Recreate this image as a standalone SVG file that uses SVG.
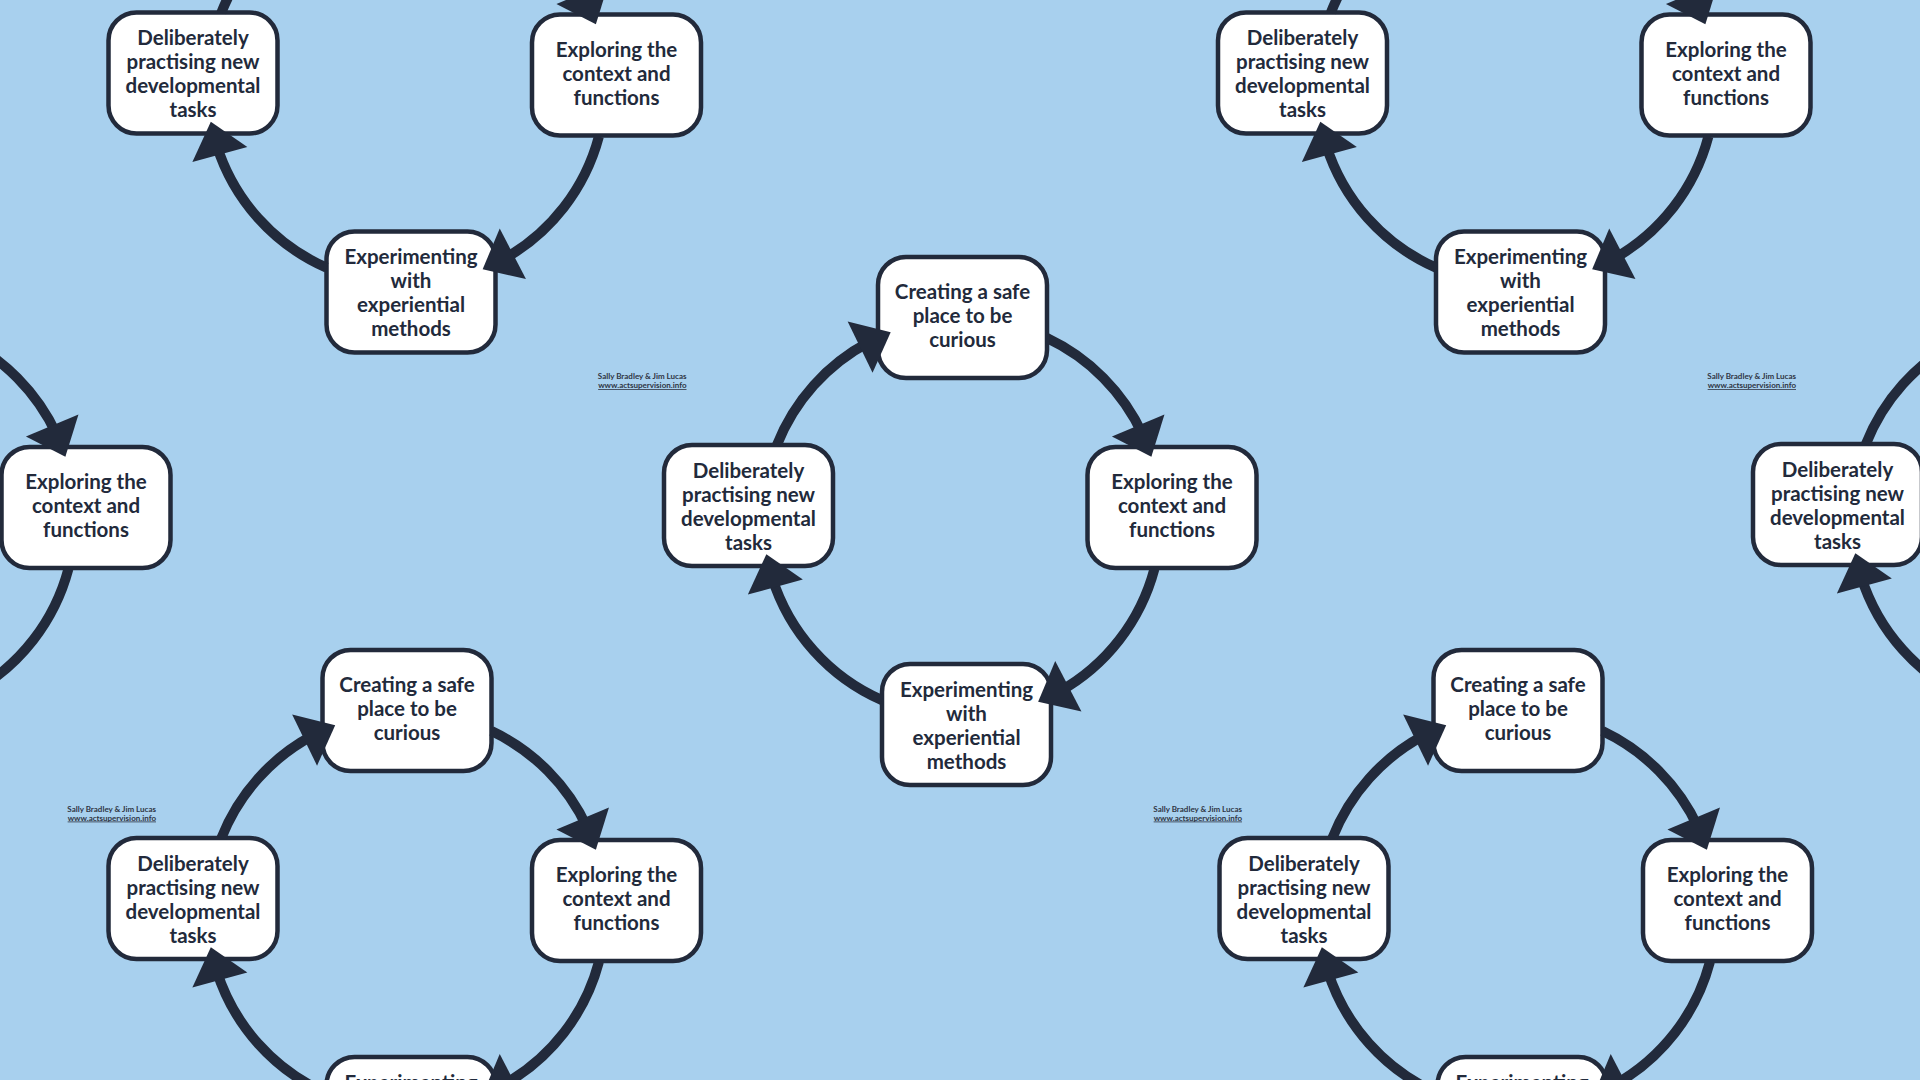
<svg xmlns="http://www.w3.org/2000/svg" xmlns:xlink="http://www.w3.org/1999/xlink" width="1920" height="1080" viewBox="0 0 1920 1080">
<style>
.bg{fill:#a8d0ee}
.box{fill:#ffffff;stroke:#222a3b;stroke-width:4.5}
.lbl{font-family:Lato,"Open Sans","Liberation Sans",sans-serif;font-weight:700;font-size:20.5px;fill:#222a3b;text-anchor:middle}
.arc{fill:none;stroke:#222a3b;stroke-width:10}
.head{fill:#222a3b}
.wm{font-family:Lato,"Liberation Sans",sans-serif;font-weight:700;font-size:8px;fill:#2f3544;text-anchor:end}
</style>
<defs>
<path id="ah" class="head" d="M199,0 L224.5,-36.3 L167.7,-31.44 Z"/>
</defs>
<rect class="bg" x="0" y="0" width="1920" height="1080"/>

<!-- upper-left copy -->
<g id="copy-ul" transform="translate(406.5,85.5)">
  <g id="ul-exploring"><rect class="box" x="125.5" y="-71" width="169" height="121" rx="28"/>
    <text class="lbl" x="210" y="-29">Exploring the</text><text class="lbl" x="210" y="-5">context and</text><text class="lbl" x="210" y="19">functions</text></g>
  <g id="ul-experimenting"><rect class="box" x="-80" y="146" width="169" height="121" rx="28"/>
    <text class="lbl" x="4.5" y="178.5">Experimenting</text><text class="lbl" x="4.5" y="202.5">with</text><text class="lbl" x="4.5" y="226.5">experiential</text><text class="lbl" x="4.5" y="250.5">methods</text></g>
  <g id="ul-deliberately"><rect class="box" x="-298" y="-73" width="169" height="121" rx="28"/>
    <text class="lbl" x="-213.5" y="-40.5">Deliberately</text><text class="lbl" x="-213.5" y="-16.5">practising new</text><text class="lbl" x="-213.5" y="7.5">developmental</text><text class="lbl" x="-213.5" y="31.5">tasks</text></g>
  <g id="ul-connectors">
    <path class="arc" d="M85,-179.9 A199,199 0 0 1 180.8,-83.2"/>
    <path class="arc" d="M192.4,51 A199,199 0 0 1 97.4,173.5"/>
    <path class="arc" d="M-80,182.2 A199,199 0 0 1 -190,59.2"/>
    <path class="arc" d="M-185.1,-73 A199,199 0 0 1 -92.8,-176"/>
    <use xlink:href="#ah" transform="rotate(-17.9)"/>
    <use xlink:href="#ah" transform="rotate(67.5)"/>
    <use xlink:href="#ah" transform="rotate(169.5)"/>
  </g>
  <text class="wm" x="280" y="293.5">Sally Bradley &amp; Jim Lucas</text>
  <text class="wm" x="280" y="302.5" text-decoration="underline">www.actsupervision.info</text>
</g>

<!-- upper-right copy -->
<g id="copy-ur" transform="translate(1516,85.5)">
  <g id="ur-exploring"><rect class="box" x="125.5" y="-71" width="169" height="121" rx="28"/>
    <text class="lbl" x="210" y="-29">Exploring the</text><text class="lbl" x="210" y="-5">context and</text><text class="lbl" x="210" y="19">functions</text></g>
  <g id="ur-experimenting"><rect class="box" x="-80" y="146" width="169" height="121" rx="28"/>
    <text class="lbl" x="4.5" y="178.5">Experimenting</text><text class="lbl" x="4.5" y="202.5">with</text><text class="lbl" x="4.5" y="226.5">experiential</text><text class="lbl" x="4.5" y="250.5">methods</text></g>
  <g id="ur-deliberately"><rect class="box" x="-298" y="-73" width="169" height="121" rx="28"/>
    <text class="lbl" x="-213.5" y="-40.5">Deliberately</text><text class="lbl" x="-213.5" y="-16.5">practising new</text><text class="lbl" x="-213.5" y="7.5">developmental</text><text class="lbl" x="-213.5" y="31.5">tasks</text></g>
  <g id="ur-connectors">
    <path class="arc" d="M85,-179.9 A199,199 0 0 1 180.8,-83.2"/>
    <path class="arc" d="M192.4,51 A199,199 0 0 1 97.4,173.5"/>
    <path class="arc" d="M-80,182.2 A199,199 0 0 1 -190,59.2"/>
    <path class="arc" d="M-185.1,-73 A199,199 0 0 1 -92.8,-176"/>
    <use xlink:href="#ah" transform="rotate(-17.9)"/>
    <use xlink:href="#ah" transform="rotate(67.5)"/>
    <use xlink:href="#ah" transform="rotate(169.5)"/>
  </g>
  <text class="wm" x="280" y="293.5">Sally Bradley &amp; Jim Lucas</text>
  <text class="wm" x="280" y="302.5" text-decoration="underline">www.actsupervision.info</text>
</g>

<!-- left-edge copy -->
<g id="copy-ml" transform="translate(-124,518)">
  <g id="ml-exploring"><rect class="box" x="125.5" y="-71" width="169" height="121" rx="28"/>
    <text class="lbl" x="210" y="-29">Exploring the</text><text class="lbl" x="210" y="-5">context and</text><text class="lbl" x="210" y="19">functions</text></g>
  <g id="ml-connectors">
    <path class="arc" d="M85,-179.9 A199,199 0 0 1 180.8,-83.2"/>
    <path class="arc" d="M192.4,51 A199,199 0 0 1 97.4,173.5"/>
    <use xlink:href="#ah" transform="rotate(-17.9)"/>
    <use xlink:href="#ah" transform="rotate(67.5)"/>
  </g>
  <text class="wm" x="280" y="293.5">Sally Bradley &amp; Jim Lucas</text>
  <text class="wm" x="280" y="302.5" text-decoration="underline">www.actsupervision.info</text>
</g>

<!-- centre copy -->
<g id="copy-mc" transform="translate(962,518)">
  <g id="mc-creating"><rect class="box" x="-84" y="-261" width="169" height="121" rx="28"/>
    <text class="lbl" x="0.5" y="-219.5">Creating a safe</text><text class="lbl" x="0.5" y="-195.5">place to be</text><text class="lbl" x="0.5" y="-171.5">curious</text></g>
  <g id="mc-exploring"><rect class="box" x="125.5" y="-71" width="169" height="121" rx="28"/>
    <text class="lbl" x="210" y="-29">Exploring the</text><text class="lbl" x="210" y="-5">context and</text><text class="lbl" x="210" y="19">functions</text></g>
  <g id="mc-experimenting"><rect class="box" x="-80" y="146" width="169" height="121" rx="28"/>
    <text class="lbl" x="4.5" y="178.5">Experimenting</text><text class="lbl" x="4.5" y="202.5">with</text><text class="lbl" x="4.5" y="226.5">experiential</text><text class="lbl" x="4.5" y="250.5">methods</text></g>
  <g id="mc-deliberately"><rect class="box" x="-298" y="-73" width="169" height="121" rx="28"/>
    <text class="lbl" x="-213.5" y="-40.5">Deliberately</text><text class="lbl" x="-213.5" y="-16.5">practising new</text><text class="lbl" x="-213.5" y="7.5">developmental</text><text class="lbl" x="-213.5" y="31.5">tasks</text></g>
  <g id="mc-connectors">
    <path class="arc" d="M85,-179.9 A199,199 0 0 1 180.8,-83.2"/>
    <path class="arc" d="M192.4,51 A199,199 0 0 1 97.4,173.5"/>
    <path class="arc" d="M-80,182.2 A199,199 0 0 1 -190,59.2"/>
    <path class="arc" d="M-185.1,-73 A199,199 0 0 1 -92.8,-176"/>
    <use xlink:href="#ah" transform="rotate(-17.9)"/>
    <use xlink:href="#ah" transform="rotate(67.5)"/>
    <use xlink:href="#ah" transform="rotate(169.5)"/>
    <use xlink:href="#ah" transform="rotate(249)"/>
  </g>
  <text class="wm" x="280" y="293.5">Sally Bradley &amp; Jim Lucas</text>
  <text class="wm" x="280" y="302.5" text-decoration="underline">www.actsupervision.info</text>
</g>

<!-- right-edge copy -->
<g id="copy-mr" transform="translate(2051,517)">
  <g id="mr-deliberately"><rect class="box" x="-298" y="-73" width="169" height="121" rx="28"/>
    <text class="lbl" x="-213.5" y="-40.5">Deliberately</text><text class="lbl" x="-213.5" y="-16.5">practising new</text><text class="lbl" x="-213.5" y="7.5">developmental</text><text class="lbl" x="-213.5" y="31.5">tasks</text></g>
  <g id="mr-connectors">
    <path class="arc" d="M-80,182.2 A199,199 0 0 1 -190,59.2"/>
    <path class="arc" d="M-185.1,-73 A199,199 0 0 1 -92.8,-176"/>
    <use xlink:href="#ah" transform="rotate(169.5)"/>
  </g>
</g>

<!-- lower-left copy -->
<g id="copy-ll" transform="translate(406.5,911)">
  <g id="ll-creating"><rect class="box" x="-84" y="-261" width="169" height="121" rx="28"/>
    <text class="lbl" x="0.5" y="-219.5">Creating a safe</text><text class="lbl" x="0.5" y="-195.5">place to be</text><text class="lbl" x="0.5" y="-171.5">curious</text></g>
  <g id="ll-exploring"><rect class="box" x="125.5" y="-71" width="169" height="121" rx="28"/>
    <text class="lbl" x="210" y="-29">Exploring the</text><text class="lbl" x="210" y="-5">context and</text><text class="lbl" x="210" y="19">functions</text></g>
  <g id="ll-experimenting"><rect class="box" x="-80" y="146" width="169" height="121" rx="28"/>
    <text class="lbl" x="4.5" y="178.5">Experimenting</text></g>
  <g id="ll-deliberately"><rect class="box" x="-298" y="-73" width="169" height="121" rx="28"/>
    <text class="lbl" x="-213.5" y="-40.5">Deliberately</text><text class="lbl" x="-213.5" y="-16.5">practising new</text><text class="lbl" x="-213.5" y="7.5">developmental</text><text class="lbl" x="-213.5" y="31.5">tasks</text></g>
  <g id="ll-connectors">
    <path class="arc" d="M85,-179.9 A199,199 0 0 1 180.8,-83.2"/>
    <path class="arc" d="M192.4,51 A199,199 0 0 1 97.4,173.5"/>
    <path class="arc" d="M-80,182.2 A199,199 0 0 1 -190,59.2"/>
    <path class="arc" d="M-185.1,-73 A199,199 0 0 1 -92.8,-176"/>
    <use xlink:href="#ah" transform="rotate(-17.9)"/>
    <use xlink:href="#ah" transform="rotate(67.5)"/>
    <use xlink:href="#ah" transform="rotate(169.5)"/>
    <use xlink:href="#ah" transform="rotate(249)"/>
  </g>
</g>

<!-- lower-right copy -->
<g id="copy-lr" transform="translate(1517.5,911)">
  <g id="lr-creating"><rect class="box" x="-84" y="-261" width="169" height="121" rx="28"/>
    <text class="lbl" x="0.5" y="-219.5">Creating a safe</text><text class="lbl" x="0.5" y="-195.5">place to be</text><text class="lbl" x="0.5" y="-171.5">curious</text></g>
  <g id="lr-exploring"><rect class="box" x="125.5" y="-71" width="169" height="121" rx="28"/>
    <text class="lbl" x="210" y="-29">Exploring the</text><text class="lbl" x="210" y="-5">context and</text><text class="lbl" x="210" y="19">functions</text></g>
  <g id="lr-experimenting"><rect class="box" x="-80" y="146" width="169" height="121" rx="28"/>
    <text class="lbl" x="4.5" y="178.5">Experimenting</text></g>
  <g id="lr-deliberately"><rect class="box" x="-298" y="-73" width="169" height="121" rx="28"/>
    <text class="lbl" x="-213.5" y="-40.5">Deliberately</text><text class="lbl" x="-213.5" y="-16.5">practising new</text><text class="lbl" x="-213.5" y="7.5">developmental</text><text class="lbl" x="-213.5" y="31.5">tasks</text></g>
  <g id="lr-connectors">
    <path class="arc" d="M85,-179.9 A199,199 0 0 1 180.8,-83.2"/>
    <path class="arc" d="M192.4,51 A199,199 0 0 1 97.4,173.5"/>
    <path class="arc" d="M-80,182.2 A199,199 0 0 1 -190,59.2"/>
    <path class="arc" d="M-185.1,-73 A199,199 0 0 1 -92.8,-176"/>
    <use xlink:href="#ah" transform="rotate(-17.9)"/>
    <use xlink:href="#ah" transform="rotate(67.5)"/>
    <use xlink:href="#ah" transform="rotate(169.5)"/>
    <use xlink:href="#ah" transform="rotate(249)"/>
  </g>
</g>
</svg>
